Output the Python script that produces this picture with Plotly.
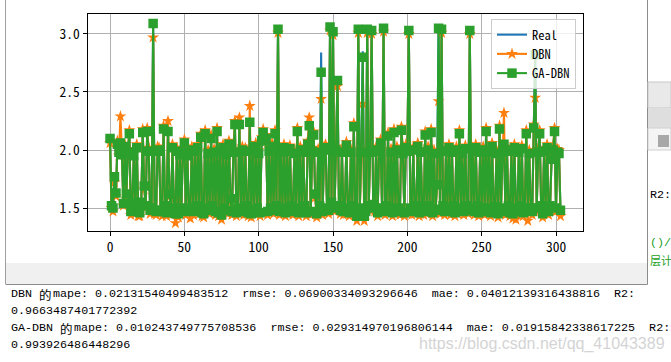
import plotly.graph_objects as go

W, H = 671, 362

real = [
    2.10, 1.52, 1.50, 1.77, 1.63, 2.05, 1.98, 2.06, 1.96, 1.54, 2.03, 1.62, 1.98, 2.14, 1.47, 1.55, 1.95, 1.50, 2.02, 1.47,
    1.46, 1.55, 2.15, 1.69, 1.52, 2.16, 1.99, 1.48, 1.50, 3.09, 1.48, 1.47, 2.00, 1.99, 1.48, 1.47, 2.19, 1.52, 1.46, 2.16,
    1.62, 1.47, 2.02, 1.50, 1.45, 1.99, 1.45, 1.96, 1.50, 1.98, 2.06, 1.47, 1.95, 1.50, 1.48, 2.00, 1.47, 1.99, 1.52, 2.02,
    1.48, 2.11, 1.46, 1.45, 2.14, 1.50, 1.97, 1.48, 2.10, 1.52, 1.98, 1.47, 2.16, 1.46, 1.99, 1.44, 2.02, 1.50, 1.96, 1.48,
    2.05, 1.58, 1.47, 1.98, 2.22, 1.46, 1.50, 2.22, 1.48, 2.00, 1.47, 1.99, 1.52, 1.46, 2.24, 1.45, 1.99, 1.48, 2.03, 1.50,
    1.97, 1.46, 2.08, 2.15, 2.08, 2.10, 1.47, 1.99, 1.50, 2.03, 1.48, 2.14, 1.52, 3.04, 1.47, 1.98, 1.50, 2.02, 1.46, 1.99,
    1.48, 2.01, 1.52, 1.47, 1.97, 1.50, 2.16, 1.46, 2.00, 1.49, 1.98, 1.52, 1.46, 2.05, 2.21, 1.47, 1.99, 2.13, 1.62, 1.45,
    1.98, 1.52, 2.84, 1.47, 2.00, 2.02, 1.50, 1.48, 3.06, 1.55, 3.02, 1.50, 2.00, 2.60, 1.52, 1.48, 1.98, 1.47, 1.50, 2.04,
    1.49, 1.46, 1.98, 1.52, 2.20, 1.48, 1.43, 3.04, 1.50, 1.98, 2.85, 1.43, 1.47, 3.04, 1.52, 1.98, 3.03, 1.53, 1.50, 2.00,
    1.46, 1.99, 2.06, 1.50, 3.05, 1.47, 1.52, 2.12, 1.50, 1.98, 1.46, 2.15, 1.48, 2.00, 1.50, 1.47, 2.17, 1.97, 1.46, 2.02,
    1.99, 3.03, 1.50, 1.47, 2.00, 1.48, 1.52, 2.03, 1.46, 1.98, 1.50, 1.47, 2.13, 1.48, 2.00, 1.52, 2.15, 1.46, 1.97, 1.49,
    1.74, 3.05, 1.48, 3.04, 1.52, 1.47, 1.99, 1.50, 2.02, 1.47, 1.98, 1.52, 1.46, 2.00, 1.48, 2.14, 1.50, 1.97, 1.47, 2.01,
    1.52, 1.48, 3.03, 1.50, 1.99, 1.47, 2.02, 1.52, 1.46, 1.98, 1.50, 2.00, 1.47, 2.16, 1.50, 1.98, 1.46, 2.03, 1.48, 1.51,
    1.97, 1.45, 2.18, 1.50, 1.98, 2.05, 1.47, 2.00, 1.52, 1.46, 1.99, 1.45, 2.02, 1.50, 1.47, 1.98, 1.52, 2.01, 1.46, 1.50,
    2.14, 1.48, 1.97, 1.50, 1.47, 2.19, 2.85, 1.50, 1.98, 2.14, 1.52, 1.45, 1.99, 1.50, 2.02, 1.47, 1.52, 1.92, 2.00, 2.16,
    1.50, 1.98, 1.97, 1.48,
]

dbn = [
    2.06, 1.50, 1.47, 1.72, 1.60, 2.08, 1.95, 2.29, 1.99, 1.52, 2.05, 1.58, 2.01, 2.17, 1.44, 1.53, 1.97, 1.45, 2.05, 1.43,
    1.43, 1.52, 2.18, 1.66, 1.50, 2.19, 2.02, 1.45, 1.47, 2.97, 1.45, 1.44, 2.03, 2.02, 1.46, 1.43, 2.21, 1.49, 1.43, 2.25,
    1.60, 1.44, 2.05, 1.47, 1.37, 2.02, 1.42, 1.99, 1.47, 2.01, 2.09, 1.44, 1.98, 1.47, 1.41, 2.03, 1.44, 2.02, 1.49, 2.05,
    1.45, 2.14, 1.43, 1.42, 2.17, 1.47, 2.00, 1.45, 2.13, 1.49, 2.01, 1.44, 2.19, 1.43, 2.02, 1.40, 2.05, 1.47, 1.99, 1.45,
    2.08, 1.55, 1.44, 2.01, 2.25, 1.43, 1.47, 2.28, 1.45, 2.03, 1.44, 2.02, 1.49, 1.43, 2.38, 1.42, 2.02, 1.45, 2.06, 1.47,
    2.00, 1.43, 2.11, 2.18, 2.11, 2.13, 1.44, 2.02, 1.47, 2.06, 1.45, 2.17, 1.49, 3.01, 1.44, 2.01, 1.47, 2.05, 1.43, 2.02,
    1.45, 2.04, 1.49, 1.44, 2.00, 1.47, 2.19, 1.43, 2.03, 1.46, 2.01, 1.49, 1.43, 2.08, 2.28, 1.44, 2.02, 2.16, 1.59, 1.42,
    2.01, 1.49, 2.44, 1.44, 2.03, 2.05, 1.47, 1.45, 3.03, 1.52, 2.99, 1.47, 2.03, 2.55, 1.49, 1.45, 2.01, 1.44, 1.47, 2.07,
    1.46, 1.43, 2.01, 1.49, 2.23, 1.45, 1.39, 3.01, 1.47, 2.01, 2.40, 1.39, 1.44, 3.01, 1.49, 2.01, 3.00, 1.50, 1.47, 2.03,
    1.43, 2.02, 2.09, 1.47, 3.02, 1.44, 1.49, 2.15, 1.47, 2.01, 1.43, 2.18, 1.45, 2.03, 1.47, 1.44, 2.20, 2.00, 1.43, 2.05,
    2.02, 3.00, 1.47, 1.44, 2.03, 1.45, 1.49, 2.06, 1.43, 2.01, 1.47, 1.44, 2.16, 1.45, 2.03, 1.49, 2.18, 1.43, 2.00, 1.46,
    1.70, 2.42, 1.45, 3.01, 1.49, 1.44, 2.02, 1.47, 2.05, 1.44, 2.01, 1.49, 1.43, 2.03, 1.45, 2.17, 1.47, 2.00, 1.44, 2.04,
    1.49, 1.45, 3.00, 1.47, 2.02, 1.44, 2.05, 1.49, 1.43, 2.01, 1.47, 2.03, 1.44, 2.19, 1.47, 2.01, 1.43, 2.06, 1.45, 1.48,
    2.00, 1.42, 2.21, 1.47, 2.01, 2.32, 1.44, 2.03, 1.49, 1.43, 2.02, 1.41, 2.05, 1.40, 1.44, 2.01, 1.49, 2.04, 1.43, 1.47,
    2.17, 1.39, 2.00, 1.47, 1.44, 2.22, 2.45, 1.47, 2.01, 2.17, 1.49, 1.42, 2.02, 1.47, 2.05, 1.44, 1.49, 1.95, 2.03, 2.19,
    1.47, 2.01, 2.00, 1.43,
]

ga_dbn = [
    2.10, 1.52, 1.50, 1.77, 1.63, 2.05, 1.98, 2.06, 1.96, 1.54, 2.03, 1.62, 1.98, 2.14, 1.47, 1.55, 1.95, 1.50, 2.02, 1.47,
    1.46, 1.55, 2.15, 1.69, 1.52, 2.16, 1.99, 1.48, 1.50, 3.09, 1.48, 1.47, 2.00, 1.99, 1.48, 1.47, 2.18, 1.52, 1.46, 2.16,
    1.62, 1.47, 2.02, 1.50, 1.45, 1.99, 1.45, 1.96, 1.50, 1.98, 2.06, 1.47, 1.95, 1.50, 1.48, 2.00, 1.47, 1.99, 1.52, 2.02,
    1.48, 2.11, 1.46, 1.45, 2.14, 1.50, 1.97, 1.48, 2.10, 1.52, 1.98, 1.47, 2.16, 1.46, 1.99, 1.44, 2.02, 1.50, 1.96, 1.48,
    2.05, 1.58, 1.47, 1.98, 2.22, 1.46, 1.50, 2.22, 1.48, 2.00, 1.47, 1.99, 1.52, 1.46, 2.24, 1.45, 1.99, 1.48, 2.03, 1.50,
    1.97, 1.46, 2.08, 2.15, 2.08, 2.10, 1.47, 1.99, 1.50, 2.03, 1.48, 2.14, 1.52, 3.04, 1.47, 1.98, 1.50, 2.02, 1.46, 1.99,
    1.48, 2.01, 1.52, 1.47, 1.97, 1.50, 2.16, 1.46, 2.00, 1.49, 1.98, 1.52, 1.46, 2.05, 2.21, 1.47, 1.99, 2.13, 1.62, 1.45,
    1.98, 1.52, 2.67, 1.47, 2.00, 2.02, 1.50, 1.48, 3.06, 1.55, 3.02, 1.50, 2.00, 2.60, 1.52, 1.48, 1.98, 1.47, 1.50, 2.04,
    1.49, 1.46, 1.98, 1.52, 2.20, 1.48, 1.43, 3.04, 1.50, 1.98, 2.80, 1.43, 1.47, 3.04, 1.52, 1.98, 3.03, 1.53, 1.50, 2.00,
    1.46, 1.99, 2.06, 1.50, 3.05, 1.47, 1.52, 2.12, 1.50, 1.98, 1.46, 2.15, 1.48, 2.00, 1.50, 1.47, 2.17, 1.97, 1.46, 2.02,
    1.99, 3.03, 1.50, 1.47, 2.00, 1.48, 1.52, 2.03, 1.46, 1.98, 1.50, 1.47, 2.13, 1.48, 2.00, 1.52, 2.15, 1.46, 1.97, 1.49,
    1.70, 3.05, 1.48, 3.04, 1.52, 1.47, 1.99, 1.50, 2.02, 1.47, 1.98, 1.52, 1.46, 2.00, 1.48, 2.14, 1.50, 1.97, 1.47, 2.01,
    1.52, 1.48, 3.03, 1.50, 1.99, 1.47, 2.02, 1.52, 1.46, 1.98, 1.50, 2.00, 1.47, 2.16, 1.50, 1.98, 1.46, 2.03, 1.48, 1.51,
    1.97, 1.45, 2.18, 1.50, 1.98, 2.05, 1.47, 2.00, 1.52, 1.46, 1.99, 1.45, 2.02, 1.50, 1.47, 1.98, 1.52, 2.01, 1.46, 1.50,
    2.14, 1.48, 1.97, 1.50, 1.47, 2.19, 2.82, 1.50, 1.98, 2.14, 1.52, 1.45, 1.99, 1.50, 2.02, 1.47, 1.52, 1.92, 2.00, 2.16,
    1.50, 1.98, 1.97, 1.48,
]

x_ticks = [0, 50, 100, 150, 200, 250, 300]
y_ticks = [1.5, 2.0, 2.5, 3.0]
series_names = ["Real", "DBN", "GA-DBN"]

console_lines = [
    ("DBN ", "的", "mape: 0.02131540499483512\u00a0\u00a0rmse: 0.06900334093296646\u00a0\u00a0mae: 0.04012139316438816\u00a0\u00a0R2:"),
    ("", "", "0.9663487401772392"),
    ("GA-DBN ", "的", "mape: 0.010243749775708536\u00a0\u00a0rmse: 0.029314970196806144\u00a0\u00a0mae: 0.01915842338617225\u00a0\u00a0R2:"),
    ("", "", "0.993926486448296"),
]
watermark = "https://blog.csdn.net/qq_41043389"


def px(x):
    return x / W


def py(y):
    return 1 - y / H


xs = list(range(len(real)))
TF = "Noto Sans Mono CJK SC, Liberation Mono, monospace"

fig = go.Figure()
fig.add_trace(go.Scatter(x=xs, y=real, name=series_names[0], mode="lines",
                         line=dict(color="#1f77b4", width=2.1)))
fig.add_trace(go.Scatter(x=xs, y=dbn, name=series_names[1], mode="lines+markers",
                         line=dict(color="#ff7f0e", width=2.1),
                         marker=dict(symbol="star", size=9, color="#ff7f0e")))
fig.add_trace(go.Scatter(x=xs, y=ga_dbn, name=series_names[2], mode="lines+markers",
                         line=dict(color="#2ca02c", width=2.1),
                         marker=dict(symbol="square", size=9.5, color="#2ca02c")))

axis_common = dict(showline=True, mirror=True, linecolor="black", linewidth=1,
                   showgrid=True, gridcolor="#b0b0b0", gridwidth=0.8, zeroline=False,
                   ticks="outside", ticklen=4, tickwidth=1, tickcolor="black",
                   tickfont=dict(family=TF, size=13.5, color="black"))

fig.update_layout(
    width=W, height=H,
    margin=dict(l=0, r=0, t=0, b=0),
    paper_bgcolor="white", plot_bgcolor="white",
    xaxis=dict(domain=[px(87.5), px(583)], range=[-15.15, 318.15],
               tickvals=x_ticks, **axis_common),
    yaxis=dict(domain=[py(231), py(14)], range=[1.302, 3.172],
               tickvals=y_ticks, tickformat=".1f", **axis_common),
    legend=dict(x=px(576), xanchor="right", y=py(19), yanchor="top",
                bgcolor="rgba(255,255,255,0.8)", bordercolor="#cccccc", borderwidth=1,
                font=dict(family=TF, size=12.5, color="black"),
                itemwidth=30, tracegroupgap=0),
    showlegend=True,
)

shapes = []
# window chrome
shapes.append(dict(type="rect", xref="paper", yref="paper", x0=px(6), x1=px(647), y0=py(284), y1=py(263),
                   fillcolor="#f0f0f0", line=dict(width=0), layer="above"))
shapes.append(dict(type="line", xref="paper", yref="paper", x0=px(5.5), x1=px(5.5), y0=py(284), y1=py(0),
                   line=dict(color="#a0a0a0", width=1), layer="above"))
shapes.append(dict(type="line", xref="paper", yref="paper", x0=px(5.5), x1=px(647.5), y0=py(284.5), y1=py(284.5),
                   line=dict(color="#8c8c8c", width=1), layer="above"))
shapes.append(dict(type="line", xref="paper", yref="paper", x0=px(647.5), x1=px(647.5), y0=py(284.5), y1=py(0),
                   line=dict(color="#8c8c8c", width=1), layer="above"))
# right panel
shapes.append(dict(type="rect", xref="paper", yref="paper", x0=px(648), x1=px(671), y0=py(108), y1=py(82),
                   fillcolor="#e9e9e9", line=dict(color="#c8c8c8", width=1), layer="above"))
shapes.append(dict(type="rect", xref="paper", yref="paper", x0=px(648), x1=px(671), y0=py(128), y1=py(108),
                   fillcolor="#dedede", line=dict(width=0), layer="above"))
shapes.append(dict(type="rect", xref="paper", yref="paper", x0=px(648), x1=px(671), y0=py(150), y1=py(128),
                   fillcolor="#f4f4f4", line=dict(color="#d0d0d0", width=1), layer="above"))
shapes.append(dict(type="rect", xref="paper", yref="paper", x0=px(658), x1=px(669), y0=py(147), y1=py(135),
                   fillcolor="#a8a8a8", line=dict(width=0), layer="above"))
fig.update_layout(shapes=shapes)

ann = []
MONO = "Liberation Mono, DejaVu Sans Mono, monospace"
CJK = "Noto Sans CJK SC"
ys = [294, 311, 328, 345]
for (a, cj, rest), yy in zip(console_lines, ys):
    if a:
        ann.append(dict(x=px(9), y=py(yy), text=a.strip(), font=dict(family=MONO, size=11.7, color="black")))
        cx = 9 + len(a) * 7.02
        ann.append(dict(x=px(cx), y=py(yy), text=cj, font=dict(family=CJK, size=12.5, color="black")))
        rx = 9 + (len(a) + 2) * 7.02
    else:
        rx = 9
    ann.append(dict(x=px(rx), y=py(yy), text=rest, font=dict(family=MONO, size=11.7, color="black")))

ann.append(dict(x=px(417), y=py(344), text=watermark,
                font=dict(family="Liberation Sans, Arial", size=16, color="#d4d4d4")))
ann.append(dict(x=px(647.5), y=py(195), text="R2:", font=dict(family=MONO, size=11.7, color="black")))
ann.append(dict(x=px(648), y=py(243), text="()/", font=dict(family=MONO, size=11.7, color="#22a022")))
ann.append(dict(x=px(648), y=py(260), text="层计", font=dict(family=CJK, size=11, color="#22a022")))

for a in ann:
    a.update(xref="paper", yref="paper", xanchor="left", yanchor="middle", showarrow=False)
fig.update_layout(annotations=ann)

fig.write_html(
    "out.html",
    config={"displayModeBar": False},
    post_script="document.body.style.margin='0';document.body.style.overflow='hidden';",
)
